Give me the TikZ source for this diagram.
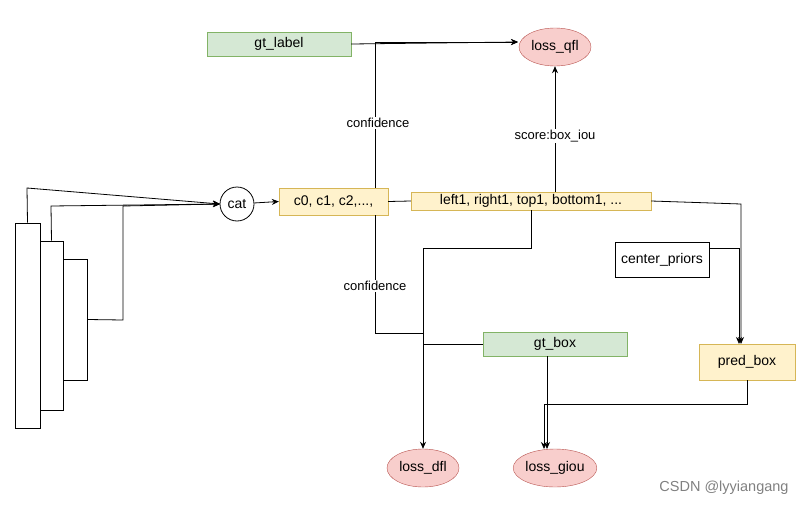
\documentclass[tikz,border=0pt]{standalone}
\usepackage{fontspec}
\setmainfont{Liberation Sans}
\usetikzlibrary{shapes.geometric,arrows.meta}
\definecolor{yf}{HTML}{FFF2CC}\definecolor{ys}{HTML}{D6B656}
\definecolor{gf}{HTML}{D5E8D4}\definecolor{gs}{HTML}{82B366}
\definecolor{rf}{HTML}{F8CECC}\definecolor{rs}{HTML}{B85450}
\begin{document}
\begin{tikzpicture}[x=1pt,y=-1pt,
 box/.style={draw,rectangle,inner sep=0pt,font=\fontsize{14}{16}\selectfont},
 yel/.style={box,fill=yf,draw=ys},
 grn/.style={box,fill=gf,draw=gs},
 loss/.style={draw=rs,fill=rf,ellipse,minimum width=72pt,minimum height=38pt,inner sep=0pt,font=\fontsize{14}{16}\selectfont},
 arr/.style={-{Stealth[length=7pt,width=6pt]},thick},
 ln/.style={thick},
 lab/.style={fill=white,inner sep=1pt,font=\fontsize{13}{15}\selectfont}]
\useasboundingbox (0,0) rectangle (806,506);
\node[draw,thick,minimum width=25pt,minimum height=205pt,inner sep=0pt] (r1) at (27.5,325.5) {};
\node[draw,thick,fill=white,minimum width=23pt,minimum height=169pt,inner sep=0pt] (r2) at (51.5,325.5) {};
\node[draw,thick,fill=white,minimum width=24pt,minimum height=121pt,inner sep=0pt] (r3) at (75,319.5) {};
\node[draw,thick,circle,minimum size=34pt,inner sep=0pt,font=\fontsize{14}{16}\selectfont] (cat) at (237,204) {cat};
\node[yel,minimum width=109pt,minimum height=27pt] (c) at (333.5,201.5) {c0, c1, c2,...,};
\node[yel,minimum width=240pt,minimum height=18pt] (lr) at (531,201) {left1, right1, top1, bottom1, ...};
\node[grn,minimum width=144pt,minimum height=24pt] (gtl) at (279,44) {gt\_label};
\node[loss] (qfl) at (555,47) {loss\_qfl};
\node[box,thick,minimum width=94pt,minimum height=35pt] (cp) at (662,259.5) {center\_priors};
\node[yel,minimum width=96pt,minimum height=36pt] (pb) at (747,362) {pred\_box};
\node[grn,minimum width=144pt,minimum height=24pt] (gtb) at (555,344) {gt\_box};
\node[loss] (dfl) at (423,468) {loss\_dfl};
\node[loss] (giou) at (555,468) {loss\_giou};
\node[text=gray,font=\fontsize{14.5}{16}\selectfont] (wm) at (724,488) {CSDN @lyyiangang};
\coordinate (catw) at (220,204);
\draw[arr] (r1.north) -- (27,188) -- (catw);
\draw[arr] (r2.north) -- (51,206) -- (catw);
\draw[arr] (r3.east) -- (123,320) -- (123,206) -- (catw);
\draw[arr] (cat) -- (c.west);
\draw[ln] (c.east) -- (lr.west);
\draw[arr] (c.north -| 375,0) -- (375,42) -- (518,42);
\node[lab] (conf1) at (378,123) {confidence};
\draw[arr] (gtl.east) -- (518,42);
\draw[arr] (lr.north -| qfl.south) -- (qfl.south);
\node[lab] (sbi) at (555,136) {score:box\_iou};
\draw[ln] (c.south -| 375,0) -- (375,333) -- (423,333);
\node[lab] (conf2) at (375,286) {confidence};
\draw[arr] (lr.south -| 531,0) -- (531,248) -- (423,248) -- (dfl.north);
\draw[ln] (gtb.west) -- (423,344);
\draw[arr] (lr.east) -- (741,204) -- (741,344);
\draw[arr] (cp.east |- 0,248) -- (739,248) -- (739,344);
\draw[arr] (gtb.south -| 547,0) -- (547,449);
\draw[arr] (pb.south) -- (747,404) -- (544,404) -- (544,449);
\end{tikzpicture}
\end{document}
